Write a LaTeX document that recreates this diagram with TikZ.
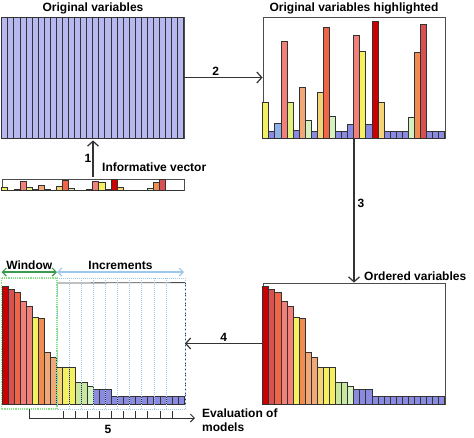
\documentclass[tikz,border=0pt]{standalone}
\usepackage{fontspec}
\setmainfont{Liberation Sans}
\usetikzlibrary{positioning,arrows.meta}

\definecolor{lav}{HTML}{B8B8F0}
\definecolor{blu}{HTML}{8A8AE0}
\definecolor{lbl}{HTML}{90B0E8}
\definecolor{yel}{HTML}{F5F060}
\definecolor{ygr}{HTML}{E4F080}
\definecolor{lgr}{HTML}{D4F2C0}
\definecolor{mgr}{HTML}{C8E8A0}
\definecolor{lor}{HTML}{F5D478}
\definecolor{ltan}{HTML}{F0A878}
\definecolor{ora}{HTML}{F08C50}
\definecolor{ore}{HTML}{F06448}
\definecolor{sal}{HTML}{F08078}
\definecolor{rdd}{HTML}{D85050}
\definecolor{crim}{HTML}{CC0000}
\definecolor{wingreen}{HTML}{3C9A50}
\definecolor{winbox}{HTML}{88E088}
\definecolor{incblue}{HTML}{9CC8EC}
\definecolor{edgeblue}{HTML}{303060}

% bar heights and colours, left to right
\newcommand\highbars{36/yel,7/blu,15/lbl,97/sal,36/ygr,8/blu,51/ltan,18/lgr,7/blu,46/lor,111/ore,22/lgr,7/blu,7/blu,14/blu,103/sal,87/yel,14/blu,117/crim,36/lor,7/blu,7/blu,7/blu,7/blu,21/lgr,86/ora,114/rdd,7/blu,7/blu,7/blu}
\newcommand\ordbars{118/crim,115/rdd,112/ore,103/sal,98/sal,87/yel,86/ora,52/ltan,47/ltan,37/lor,37/yel,37/yel,22/mgr,22/mgr,18/lgr,15/blu,15/blu,15/blu,8/blu,8/blu,8/blu,8/blu,8/blu,8/blu,8/blu,8/blu,8/blu,8/blu,8/blu,8/blu}

\begin{document}
\begin{tikzpicture}[
    x=1pt, y=-1pt,
    conn/.style={draw=black!80, line width=1.2pt, -{Straight Barb[length=5pt,width=11pt]}},
    plotbox/.style={draw=black!70, line width=0.8pt, minimum width=182pt, minimum height=121pt, inner sep=0pt},
    bar/.style={draw=black!80, line width=0.6pt},
    lbl/.style={font=\bfseries\fontsize{12}{14}\selectfont, inner sep=1pt},
    span/.style={line width=1.2pt, {Straight Barb[length=4pt,width=8pt]}-{Straight Barb[length=4pt,width=8pt]}},
]
    \useasboundingbox (0,0) rectangle (474,437);

    % boxes
    \node[plotbox] (orig) at (93,77.5) {};
    \node[plotbox] (high) at (354,77.5) {};
    \node[plotbox] (ord) at (354,343.5) {};
    \node[plotbox, draw=none] (win) at (93.5,343.5) {};
    \node[plotbox, minimum height=11pt] (info) at (93,184.5) {};

    % original variables
    \foreach \i in {0,...,29}
        \draw[bar, fill=lav] ([xshift=\i*6.0667pt]orig.south west) rectangle ++(6.0667,-121);

    % highlighted and informative vector
    \begin{scope}[shift={(high.south west)}]
        \foreach \h/\c [count=\i from 0] in \highbars
            \draw[bar, fill=\c] (\i*6.0667,0) rectangle ++(6.0667,-\h);
    \end{scope}
    \begin{scope}[shift={(info.south west)}]
        \foreach \h/\c [count=\i from 0] in \highbars
            \draw[bar, line width=0.4pt, fill=\c] (\i*6.0667,0) rectangle ++(6.0667,-0.094*\h);
    \end{scope}

    % ordered, twice
    \begin{scope}[shift={(ord.south west)}]
        \foreach \h/\c [count=\i from 0] in \ordbars
            \draw[bar, fill=\c] (\i*6.0667,0) rectangle ++(6.0667,-\h);
    \end{scope}
    \draw[black!70, line width=0.8pt] (57,283) -- (win.north east);
    \begin{scope}[shift={(win.south west)}]
        \foreach \h/\c [count=\i from 0] in \ordbars
            \draw[bar, fill=\c] (\i*6.0667,0) rectangle ++(6.0667,-\h);
    \end{scope}
    \draw[edgeblue, densely dashed, line width=0.8pt] (win.north east) -- (win.south east);

    % window and increments
    \coordinate (wl) at (1.5,272);
    \coordinate (wm) at (57,272);
    \coordinate (wr) at (184,272);
    \draw[incblue, densely dotted, line width=1pt] (57,278) rectangle (185.5,409);
    \foreach \k in {1,...,9}
        \draw[incblue, densely dotted, line width=1pt] ({57+12.13*\k},278) -- ({57+12.13*\k},409);
    \draw[winbox, densely dotted, line width=1.2pt] (1.2,278) rectangle (57,409);
    \draw[span, wingreen] (wl) -- node[lbl, above=1pt, black] {Window} (wm);
    \draw[span, incblue] (wm) -- node[lbl, above=1pt, black] {Increments} (wr);

    % evaluation axis
    \coordinate (ax0) at (29,418);
    \coordinate (ax1) at (195,418);
    \draw[black!80, line width=1pt, -{Straight Barb[length=4pt,width=8pt]}] (ax0) -- (ax1);
    \draw[black!80, line width=1pt] (ax0) -- ++(0,-9);
    \foreach \k in {0,...,9}
        \draw[black!80, line width=1pt] ({63+12.13*\k},418) -- ++(0,-7);
    \node[lbl] (five) at (108,429) {5};
    \node[lbl, anchor=west, align=left] (evaltext) at (201,420) {Evaluation of\\models};

    % labels
    \node[lbl, above=1pt of orig] (origtext) {Original variables};
    \node[lbl, above=1pt of high] (hightext) {Original variables highlighted};
    \node[lbl, anchor=west] (infotext) at (101,167) {Informative vector};
    \node[lbl, anchor=west] (ordtext) at (363,276) {Ordered variables};

    % steps
    \draw[conn, shorten <=2pt, shorten >=2pt] (info) -- node[lbl, left] {1} (orig);
    \draw[conn] (orig.east) -- node[lbl, above, pos=0.4] {2} (high.west);
    \draw[conn] (high) -- node[lbl, right=2pt, pos=0.45] {3} (ord);
    \draw[conn] (ord) -- node[lbl, above] {4} (win);
\end{tikzpicture}
\end{document}
